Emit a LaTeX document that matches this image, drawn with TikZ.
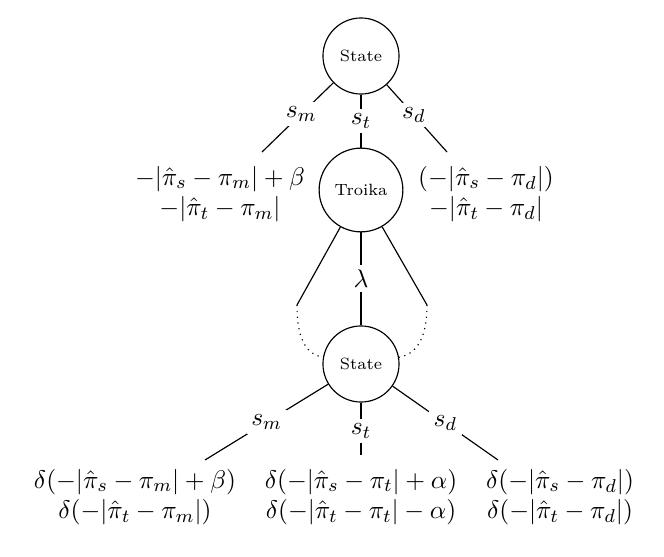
\documentclass[tikz,border=0pt]{standalone}
\usepackage{amsmath}
\usetikzlibrary{positioning}
\begin{document}
\begin{tikzpicture}[x=0.43pt,y=-0.43pt,line width=0.5pt]
	\tikzset{
		player/.style={circle, draw=black, font=\scriptsize, inner sep=0pt},
		lbl/.style={fill=white, inner sep=2pt, font=\fontsize{11.3}{13.5}\selectfont},
		pay/.style={align=center, inner sep=0pt, font=\fontsize{11.3}{13.2}\selectfont}
	}
	\useasboundingbox (0,0) rectangle (664,557);
	\node[player, minimum size=32.7pt] (s1) at (361,56) {State};
	\node[player, minimum size=36pt] (tr) at (361,190) {Troika};
	\node[player, minimum size=32.7pt] (s2) at (361,364) {State};
	
	\node[pay] (p1) at (220,194) {$-|\hat{\pi}_s-\pi_m|+\beta$\\$-|\hat{\pi}_t-\pi_m|$};
	\node[pay] (p2) at (486,194) {$(-|\hat{\pi}_s-\pi_d|)$\\$-|\hat{\pi}_t-\pi_d|$};
	
	\draw (s1) -- (262,152) node[pos=0.45, lbl] {$s_m$};
	\draw (s1) -- (tr) node[midway, lbl] {$s_t$};
	\draw (s1) -- (447,152) node[pos=0.45, lbl] {$s_d$};
	
	\coordinate (l) at (297,305);
	\coordinate (r) at (427,305);
	\draw (tr) -- (l);
	\draw (tr) -- (r);
	\draw (tr) -- (s2) node[midway, lbl] {$\lambda$};
	\draw[dotted] (l) to[out=-90, in=170] (s2);
	\draw[dotted] (r) to[out=-90, in=10] (s2);
	
	\node[pay] (q1) at (135,497) {$\delta(-|\hat{\pi}_s-\pi_m|+\beta)$\\$\delta(-|\hat{\pi}_t-\pi_m|)$};
	\node[pay] (q2) at (361,497) {$\delta(-|\hat{\pi}_s-\pi_t|+\alpha)$\\$\delta(-|\hat{\pi}_t-\pi_t|-\alpha)$};
	\node[pay] (q3) at (560,497) {$\delta(-|\hat{\pi}_s-\pi_d|)$\\$\delta(-|\hat{\pi}_t-\pi_d|)$};
	
	\draw (s2) -- (205,460) node[pos=0.5, lbl] {$s_m$};
	\draw (s2) -- (361,455) node[pos=0.55, lbl] {$s_t$};
	\draw (s2) -- (498,460) node[pos=0.5, lbl] {$s_d$};
\end{tikzpicture}
\end{document}
